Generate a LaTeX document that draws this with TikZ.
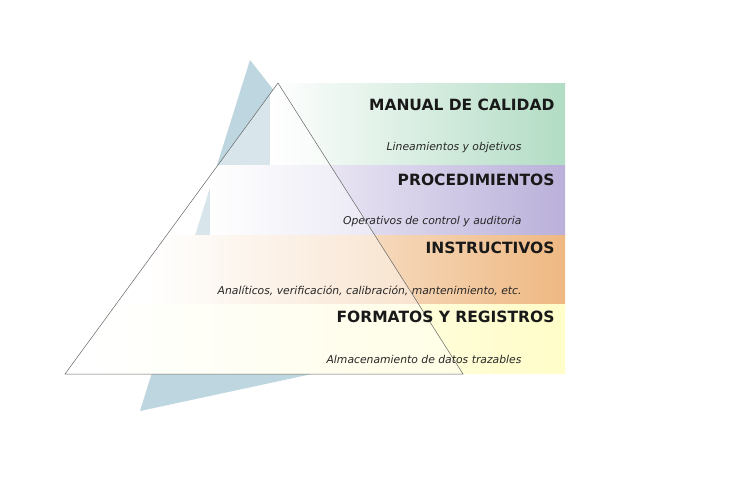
\documentclass[tikz,border=0pt]{standalone}
\usepackage{fontspec}
\setmainfont{DejaVu Sans}
\begin{document}
\begin{tikzpicture}[x=1pt,y=-1pt,
  ttl/.style={anchor=east,font=\bfseries\fontsize{15.5}{17}\selectfont,text=black!90},
  sub/.style={anchor=east,font=\itshape\fontsize{10.8}{12}\selectfont,text=black!85}]
\definecolor{cg}{RGB}{178,220,196}
\definecolor{cp}{RGB}{186,176,218}
\definecolor{co}{RGB}{238,184,130}
\definecolor{cy}{RGB}{255,253,200}
\definecolor{cb}{RGB}{190,214,224}
\useasboundingbox (0,0) rectangle (732,491);
\fill[white] (0,0) rectangle (732,491);
\fill[cb] (250,60) -- (140,411) -- (470,340) -- cycle;
\begin{scope}
\clip (278,83) -- (65,374) -- (600,374) -- (600,83) -- cycle;
\shade[left color=white,right color=cg] (270,83) rectangle (565,165);
\shade[left color=white,right color=cp] (210,165) rectangle (565,235);
\shade[left color=white,right color=co] (150,235) rectangle (565,304);
\shade[left color=white,right color=cy] (95,304) rectangle (565,374);
\end{scope}
\filldraw[fill=white,fill opacity=0.4,draw=gray!80!black,line width=0.5pt] (278,83) -- (65,374) -- (463,374) -- cycle;
\node[ttl] (t1) at (558,105) {MANUAL DE CALIDAD};
\node[sub] (s1) at (525,148) {Lineamientos y objetivos};
\node[ttl] (t2) at (558,180) {PROCEDIMIENTOS};
\node[sub] (s2) at (525,222) {Operativos de control y auditoria};
\node[ttl] (t3) at (558,248) {INSTRUCTIVOS};
\node[sub] (s3) at (525,291) {Analíticos, verificación, calibración, mantenimiento, etc.};
\node[ttl] (t4) at (558,317) {FORMATOS Y REGISTROS};
\node[sub] (s4) at (525,359) {Almacenamiento de datos trazables};
\end{tikzpicture}
\end{document}
